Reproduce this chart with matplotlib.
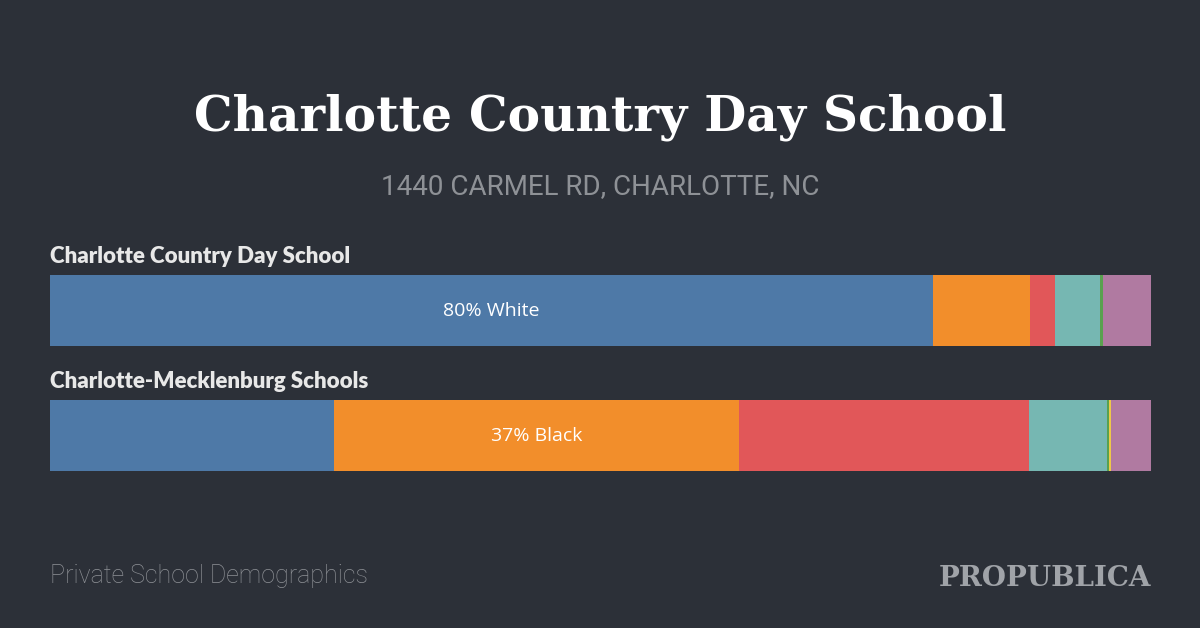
import matplotlib.pyplot as plt

groups = ['White', 'Black', 'Hispanic', 'Asian', 'Pacific Islander', 'Native American', 'Two or More']
colors = ['#4e79a7', '#f28e2b', '#e15759', '#76b7b2', '#59a14f', '#edc948', '#b07aa1']
schools = ['Charlotte Country Day School', 'Charlotte-Mecklenburg Schools']
shares = [
    [80.2, 8.8, 2.3, 4.1, 0.2, 0.0, 4.4],
    [25.8, 36.8, 26.3, 7.1, 0.2, 0.2, 3.6],
]
bg = '#2c3038'

fig = plt.figure(figsize=(12, 6.28), dpi=100, facecolor=bg)
ax = fig.add_axes([50 / 1200, 1 - 471 / 628, 1101 / 1200, 196 / 628])
ax.set_facecolor(bg)
ax.set_xlim(0, 100)
ax.set_ylim(196, 0)
ax.axis('off')

centers = [35.5, 160.5]
for row, vals in enumerate(shares):
    left = 0
    top_i = max(range(len(vals)), key=lambda i: vals[i])
    for i, v in enumerate(vals):
        ax.barh(centers[row], v, left=left, height=71, color=colors[i], linewidth=0)
        if i == top_i:
            ax.text(left + v / 2, centers[row], f'{round(v)}% {groups[i]}', color='white',
                    ha='center', va='center', fontsize=14, family='Open Sans')
        left += v
    ax.text(0, centers[row] - 44, schools[row], color='#e8e8e8', fontsize=16,
            fontweight='heavy', family='Lato', va='bottom', ha='left')

fig.text(0.5, 1 - 117 / 628, 'Charlotte Country Day School', color='white', fontsize=35,
         fontweight='bold', family='DejaVu Serif', ha='center', va='center')
fig.text(0.5, 1 - 187 / 628, '1440 CARMEL RD, CHARLOTTE, NC', color='#8e9196', fontsize=20,
         family='Roboto', ha='center', va='center')
fig.text(50 / 1200, 1 - 576 / 628, 'Private School Demographics', color='#8e9196', fontsize=18,
         family='Roboto', fontweight='light', ha='left', va='center')
fig.text(1151 / 1200, 1 - 578 / 628, 'PROPUBLICA', color='#a0a3a8', fontsize=20,
         fontweight='bold', family='DejaVu Serif', ha='right', va='center')

fig.savefig('out.png', facecolor=bg)
